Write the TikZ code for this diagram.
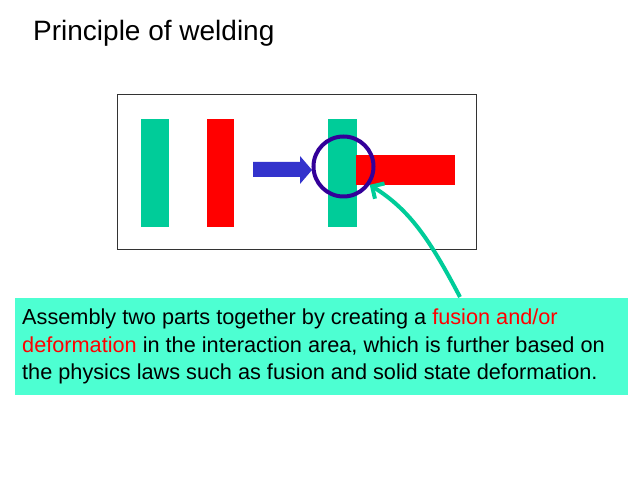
\documentclass[tikz,border=0pt]{standalone}
\usepackage{fontspec}
\setmainfont{Liberation Sans}
\usetikzlibrary{arrows.meta}
\definecolor{grn}{HTML}{00CC99}
\definecolor{rd}{HTML}{FF0000}
\definecolor{blu}{HTML}{3333CC}
\definecolor{circ}{HTML}{330099}
\definecolor{aqua}{HTML}{4DFFD2}
\begin{document}
\begin{tikzpicture}[x=1pt,y=-1pt]
\useasboundingbox (0,0) rectangle (638,478);
\node[anchor=west,font=\fontsize{28}{32}\selectfont,inner sep=0pt] (title) at (33,33) {Principle of welding};
\node[draw=black!80,line width=1pt,minimum width=359pt,minimum height=155pt,inner sep=0pt] (frame) at (296.5,172.5) {};
\fill[grn] (141,119) rectangle (169,227);
\fill[rd] (207,119) rectangle (234,227);
\fill[grn] (328,119) rectangle (357,227);
\fill[rd] (356,155) rectangle (455,185);
\fill[blu] (253,162) -- (300,162) -- (300,156) -- (312,170) -- (300,184) -- (300,177) -- (253,177) -- cycle;
\node[circle,draw=circ,line width=4pt,minimum size=60pt,inner sep=0pt] (zone) at (343.5,166.5) {};
\node[fill=aqua,minimum width=613pt,minimum height=97pt,inner sep=0pt] (txt) at (321.5,346.5) {};
\node[anchor=north west,align=left,font=\fontsize{21.7}{27.5}\selectfont,inner sep=0pt] (label) at (22,309)
{Assembly two parts together by creating a \textcolor{rd}{fusion and/or}\\
\textcolor{rd}{deformation} in the interaction area, which is further based on\\
the physics laws such as fusion and solid state deformation.};
\coordinate (tail) at (460,297);
\draw[grn,line width=4pt,-{Straight Barb[length=9pt,width=18pt]}] (tail) .. controls (430,240) and (410,210) .. (zone.-35);
\end{tikzpicture}
\end{document}
